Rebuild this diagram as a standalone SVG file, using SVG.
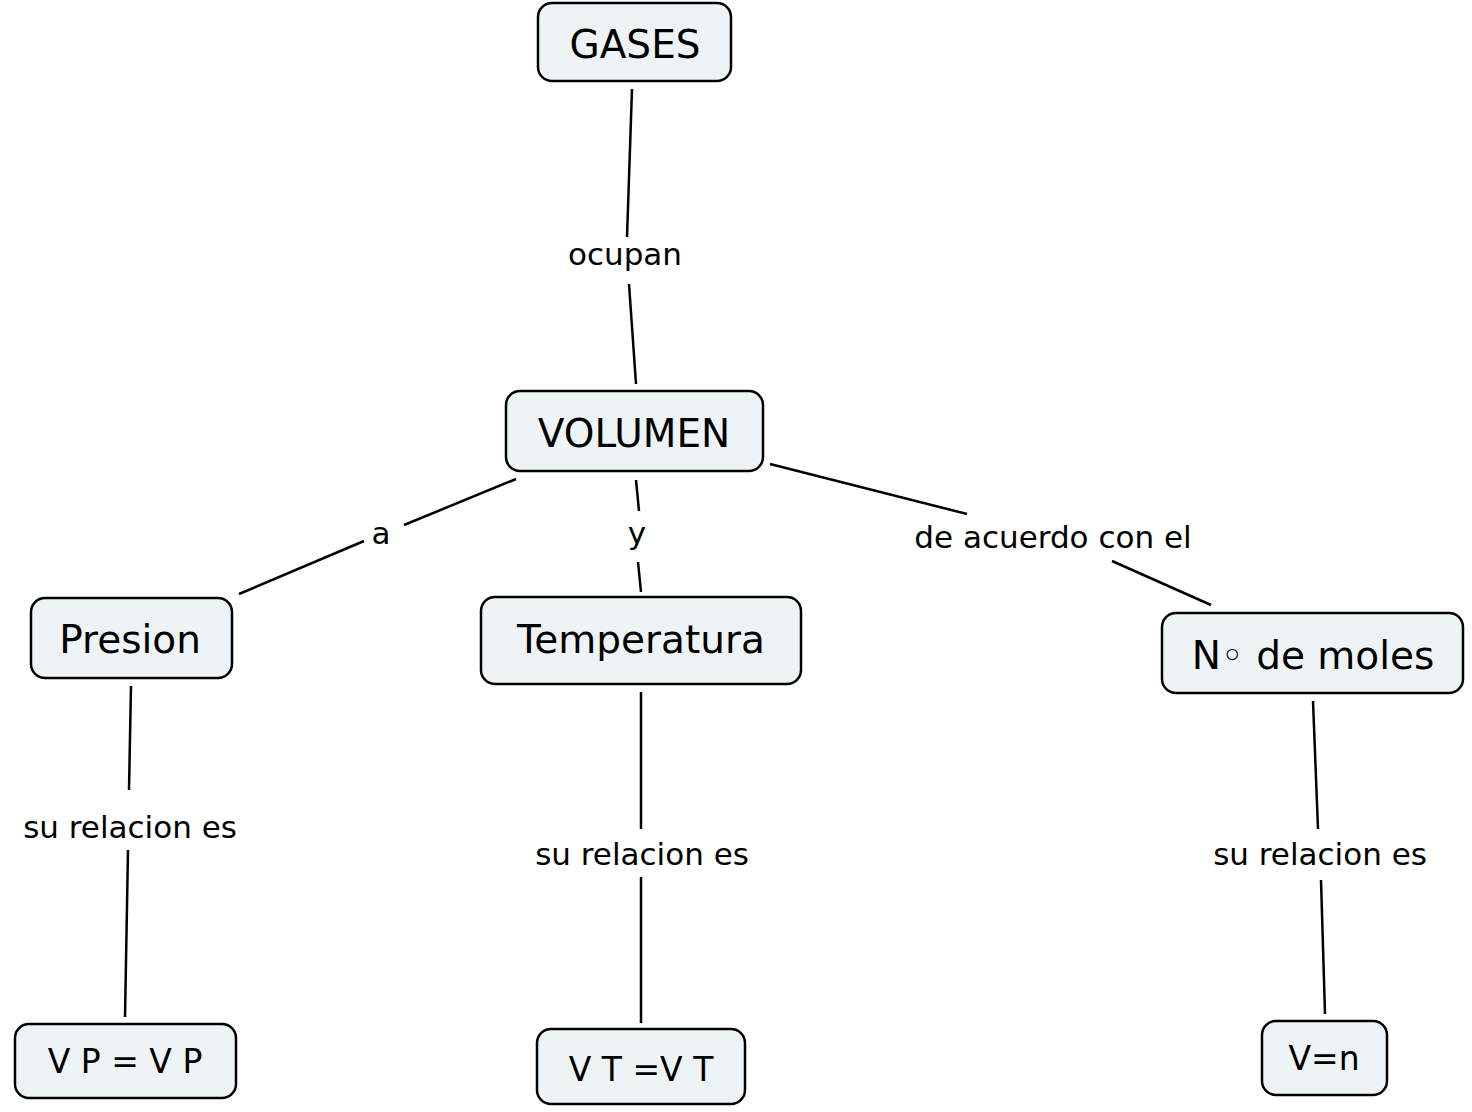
<svg xmlns="http://www.w3.org/2000/svg" width="1472" height="1112" viewBox="0 0 1472 1112">
<style>
.n rect{fill:#eef4f6;stroke:#000;stroke-width:2.5}
.n text{font-family:"DejaVu Sans",Verdana,sans-serif;font-size:39px;text-anchor:middle;fill:#000}
.s text{font-size:33px}
#c line{stroke:#000;stroke-width:2.5}
#c text{font-family:"DejaVu Sans",Verdana,sans-serif;font-size:31px;text-anchor:middle;fill:#000}
</style>
<rect width="1472" height="1112" fill="#fff"/>
<g id="c">
<line x1="632" y1="89" x2="627" y2="237"/><line x1="629" y1="284" x2="636" y2="384"/><text x="625" y="265">ocupan</text>
<line x1="516" y1="479" x2="404" y2="525"/><line x1="364" y1="541" x2="239" y2="594"/><text x="381" y="544">a</text>
<line x1="636" y1="480" x2="639" y2="511"/><line x1="638" y1="562" x2="641" y2="592"/><text x="637" y="544">y</text>
<line x1="770" y1="464" x2="967" y2="514"/><line x1="1112" y1="561" x2="1211" y2="605"/><text x="1053" y="548">de acuerdo con el</text>
<line x1="131" y1="686" x2="129" y2="790"/><line x1="128" y1="850" x2="125" y2="1017"/><text x="130" y="838">su relacion es</text>
<line x1="641" y1="692" x2="641" y2="829"/><line x1="641" y1="877" x2="641" y2="1023"/><text x="642" y="865">su relacion es</text>
<line x1="1313" y1="701" x2="1318" y2="829"/><line x1="1321" y1="880" x2="1325" y2="1014"/><text x="1320" y="865">su relacion es</text>
</g>
<g id="gases" class="n"><rect x="538" y="3" width="193" height="78" rx="14"/><text x="635" y="58">GASES</text></g>
<g id="volumen" class="n"><rect x="506" y="391" width="257" height="80" rx="14"/><text x="634" y="447">VOLUMEN</text></g>
<g id="presion" class="n"><rect x="31" y="598" width="201" height="80" rx="14"/><text x="130" y="653">Presion</text></g>
<g id="temperatura" class="n"><rect x="481" y="597" width="320" height="87" rx="14"/><text x="641" y="653">Temperatura</text></g>
<g id="moles" class="n"><rect x="1162" y="613" width="301" height="80" rx="14"/><text x="1313" y="669">N◦ de moles</text></g>
<g id="vp" class="n s"><rect x="15" y="1024" width="221" height="74" rx="14"/><text x="125" y="1073">V P = V P</text></g>
<g id="vt" class="n s"><rect x="537" y="1029" width="208" height="75" rx="14"/><text x="641" y="1081">V T =V T</text></g>
<g id="vn" class="n s"><rect x="1262" y="1021" width="125" height="74" rx="14"/><text x="1324" y="1070">V=n</text></g>
</svg>
